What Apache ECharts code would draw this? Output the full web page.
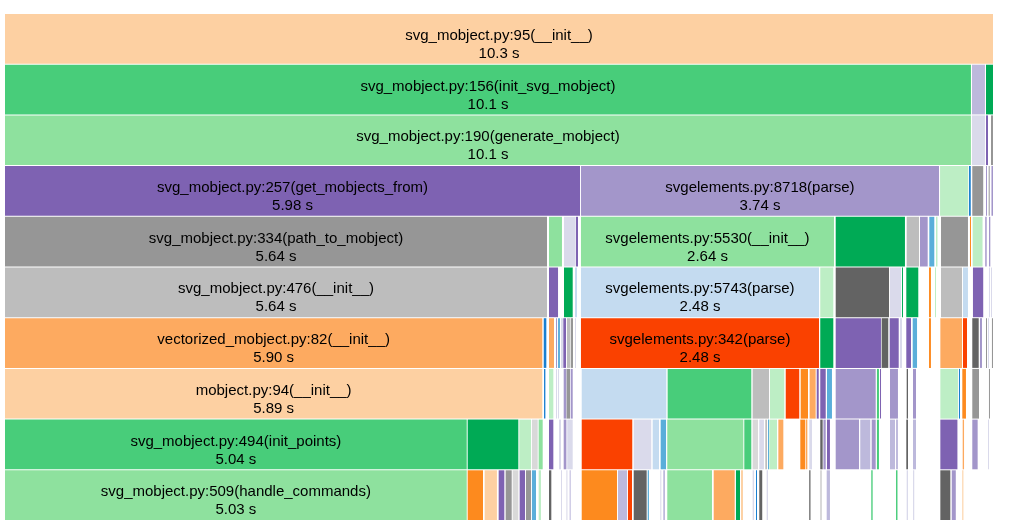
<!DOCTYPE html>
<html>
<head>
<meta charset="utf-8">
<script src="https://cdn.jsdelivr.net/npm/echarts@6/dist/echarts.min.js"></script>
<style>
html,body{margin:0;padding:0;background:#fff;}
#main{width:1009px;height:532px;}
</style>
</head>
<body>
<div id="main"></div>
<script>
// Flame graph frames per depth: [start (s), end (s), category, name, total time label]
const row0 = [[0, 10.301, 'PE', 'svg_mobject.py:95(__init__)', '10.3 s']];
const row1 = [[0, 10.071, 'G', 'svg_mobject.py:156(init_svg_mobject)', '10.1 s'], [10.082, 10.217, 'LP'], [10.228, 10.301, 'DG']];
const row2 = [[0, 10.071, 'LG', 'svg_mobject.py:190(generate_mobject)', '10.1 s'], [10.082, 10.217, 'LL'], [10.228, 10.249, 'P'], [10.280, 10.301, 'GR']];
const row3 = [[0, 5.995, 'P', 'svg_mobject.py:257(get_mobjects_from)', '5.98 s'], [6.005, 9.738, 'LV', 'svgelements.py:8718(parse)', '3.74 s'],
  [9.749, 10.043, 'PG'], [10.051, 10.069, 'DB'], [10.085, 10.199, 'GR'], [10.228, 10.238, 'LV'], [10.256, 10.266, 'GR'], [10.285, 10.301, 'LV']];
const row4 = [[0, 5.651, 'GR', 'svg_mobject.py:334(path_to_mobject)', '5.64 s'], [5.672, 5.807, 'LG'], [5.828, 5.950, 'LL'], [5.953, 5.974, 'P'],
  [6.005, 8.643, 'LG', 'svgelements.py:5530(__init__)', '2.64 s'], [8.661, 9.383, 'DG'], [9.401, 9.530, 'LGR'], [9.540, 9.620, 'LV'],
  [9.637, 9.689, 'B'], [9.707, 9.722, 'PG'], [9.759, 10.040, 'GR'], [10.061, 10.071, 'O'], [10.089, 10.192, 'PG'], [10.220, 10.235, 'LV'], [10.259, 10.273, 'LV']];
const row5 = [[0, 5.651, 'LGR', 'svg_mobject.py:476(__init__)', '5.64 s'], [5.672, 5.766, 'P'], [5.828, 5.919, 'DG'], [5.943, 5.964, 'LB'],
  [6.005, 8.487, 'LB', 'svgelements.py:5743(parse)', '2.48 s'], [8.500, 8.636, 'PG'], [8.661, 9.217, 'DGR'], [9.227, 9.342, 'LL'],
  [9.352, 9.362, 'DG'], [9.397, 9.522, 'DG'], [9.634, 9.654, 'O'], [9.696, 9.707, 'PG'], [9.759, 9.978, 'LGR'], [9.988, 10.040, 'LB'],
  [10.092, 10.199, 'P'], [10.259, 10.269, 'LL'], [10.280, 10.290, 'LL']];
const row6 = [[0, 5.602, 'LO', 'vectorized_mobject.py:82(__init__)', '5.90 s'], [5.617, 5.644, 'DB'], [5.672, 5.724, 'LO'], [5.745, 5.755, 'LV'],
  [5.766, 5.786, 'B'], [5.797, 5.817, 'LL'], [5.821, 5.849, 'P'], [5.859, 5.891, 'LGR'], [5.898, 5.922, 'GR'], [5.943, 5.953, 'LL'],
  [6.005, 8.487, 'R', 'svgelements.py:342(parse)', '2.48 s'], [8.500, 8.636, 'DG'], [8.661, 9.133, 'P'], [9.140, 9.209, 'DGR'],
  [9.224, 9.318, 'P'], [9.331, 9.352, 'LL'], [9.397, 9.446, 'P'], [9.464, 9.509, 'B'], [9.634, 9.654, 'O'], [9.752, 9.978, 'LO'],
  [9.988, 10.030, 'R'], [10.085, 10.152, 'DGR'], [10.165, 10.186, 'LV'], [10.228, 10.238, 'GR'], [10.249, 10.259, 'LL'], [10.290, 10.301, 'GR']];
const row7 = [[0, 5.602, 'PE', 'mobject.py:94(__init__)', '5.89 s'], [5.620, 5.634, 'DB'], [5.672, 5.717, 'PG'], [5.745, 5.755, 'LL'],
  [5.766, 5.776, 'LL'], [5.825, 5.853, 'LV'], [5.856, 5.891, 'GR'], [5.898, 5.919, 'LV'], [6.013, 6.895, 'LB'], [6.909, 7.781, 'G'],
  [7.795, 7.966, 'LGR'], [7.976, 8.125, 'PG'], [8.140, 8.281, 'R'], [8.296, 8.372, 'O'], [8.389, 8.452, 'LO'], [8.463, 8.484, 'P'],
  [8.500, 8.557, 'P'], [8.570, 8.622, 'B'], [8.661, 9.078, 'LV'], [9.091, 9.112, 'G'], [9.123, 9.133, 'P'], [9.227, 9.310, 'LV'],
  [9.401, 9.415, 'DGR'], [9.467, 9.498, 'LV'], [9.752, 9.936, 'PG'], [9.946, 9.957, 'DB'], [9.981, 10.019, 'O'], [10.085, 10.155, 'GR'], [10.259, 10.269, 'GR']];
const row8 = [[0, 4.814, 'G', 'svg_mobject.py:494(init_points)', '5.04 s'], [4.824, 5.352, 'DG'], [5.362, 5.484, 'PG'], [5.494, 5.554, 'VLG'],
  [5.564, 5.606, 'LG'], [5.672, 5.717, 'P'], [5.776, 5.797, 'LL'], [5.825, 5.853, 'LV'], [5.862, 5.919, 'LL'], [6.013, 6.540, 'R'],
  [6.555, 6.738, 'LL'], [6.753, 6.819, 'LB'], [6.836, 6.892, 'B'], [6.905, 7.698, 'LG'], [7.708, 7.781, 'G'], [7.795, 7.851, 'VLG'],
  [7.864, 7.913, 'LL'], [7.927, 7.945, 'LGR'], [7.955, 7.966, 'B'], [7.969, 8.049, 'PG'], [8.063, 8.115, 'LO'], [8.292, 8.344, 'O'],
  [8.354, 8.362, 'O'], [8.385, 8.414, 'LL'], [8.500, 8.525, 'DGR'], [8.533, 8.557, 'LV'], [8.570, 8.601, 'P'], [8.661, 8.904, 'LV'],
  [8.917, 9.022, 'LP'], [9.036, 9.078, 'LV'], [9.091, 9.112, 'G'], [9.227, 9.279, 'LP'], [9.290, 9.310, 'LP'], [9.397, 9.415, 'DGR'],
  [9.467, 9.498, 'LP'], [9.752, 9.930, 'P'], [9.985, 9.999, 'LO'], [10.085, 10.141, 'LV'], [10.249, 10.259, 'LL']];
const row9 = [[0, 4.814, 'LG', 'svg_mobject.py:509(handle_commands)', '5.03 s'], [4.824, 4.984, 'O'], [5.001, 5.129, 'PE'], [5.147, 5.206, 'P'],
  [5.220, 5.283, 'GR'], [5.293, 5.352, 'VLG'], [5.366, 5.422, 'P'], [5.432, 5.484, 'GR'], [5.494, 5.536, 'B'], [5.564, 5.588, 'PG'],
  [5.672, 5.696, 'DGR'], [5.797, 5.807, 'LL'], [5.853, 5.864, 'LL'], [5.887, 5.898, 'LP'], [6.013, 6.381, 'O'], [6.391, 6.485, 'LP'],
  [6.495, 6.537, 'R'], [6.555, 6.690, 'DGR'], [6.701, 6.714, 'B'], [6.832, 6.843, 'LL'], [6.863, 6.881, 'LP'], [6.905, 7.371, 'LG'],
  [7.389, 7.608, 'LO'], [7.621, 7.663, 'DG'], [7.674, 7.694, 'PE'], [7.795, 7.810, 'LL'], [7.830, 7.840, 'DB'], [7.864, 7.895, 'DGR'],
  [7.941, 7.955, 'LL'], [8.385, 8.398, 'DGR'], [8.497, 8.518, 'VLG'], [8.567, 8.601, 'LP'], [9.032, 9.046, 'G'], [9.290, 9.305, 'G'],
  [9.401, 9.415, 'LL'], [9.467, 9.480, 'LL'], [9.752, 9.856, 'DGR'], [9.871, 9.913, 'LV'], [9.981, 9.992, 'PE']];
const rows = [row0, row1, row2, row3, row4, row5, row6, row7, row8, row9];
const totalTime = 10.301;

const palette = {
  PE: '#fdd0a2', G: '#48cd7a', LG: '#8ee19e', PG: '#bdeec5', DG: '#00aa55',
  P: '#7e62b2', LV: '#a396ca', LP: '#bdb9dc', LL: '#dadaeb',
  GR: '#969696', LGR: '#bdbdbd', VLG: '#d9d9d9', DGR: '#636363',
  LB: '#c4dbf0', B: '#5aaeda', DB: '#1a7fd0',
  O: '#fd8a1e', LO: '#fdaa60', R: '#fa4100'
};

const frames = [];
rows.forEach((r, depth) => r.forEach(f => frames.push({depth, start: f[0], end: f[1], cat: f[2], name: f[3], time: f[4]})));

const chart = echarts.init(document.getElementById('main'), null, {renderer: 'canvas'});
chart.setOption({
  animation: false,
  grid: {left: 5, right: 16, top: 14, bottom: 11},
  xAxis: {type: 'value', min: 0, max: totalTime, show: false},
  yAxis: {type: 'value', min: 0, max: rows.length, inverse: true, show: false},
  series: [{
    type: 'custom',
    data: frames.map(f => [f.start, f.end, f.depth]),
    encode: {x: [0, 1], y: 2},
    renderItem: function (params, api) {
      const f = frames[params.dataIndex];
      const p0 = api.coord([f.start, f.depth]);
      const p1 = api.coord([f.end, f.depth + 1]);
      const w = Math.max(p1[0] - p0[0], 1);
      const h = p1[1] - p0[1] - 1;
      const children = [{
        type: 'rect',
        shape: {x: p0[0], y: p0[1], width: w, height: h},
        style: {fill: palette[f.cat]}
      }];
      if (f.name) {
        children.push({
          type: 'text',
          style: {
            x: p0[0] + w / 2, y: p0[1] + h / 2 + 6,
            text: f.name + '\n' + f.time,
            fill: '#000',
            font: '15px "Liberation Sans", Arial, sans-serif',
            lineHeight: 18,
            align: 'center', verticalAlign: 'middle'
          }
        });
      }
      return {type: 'group', children};
    }
  }]
});
</script>
</body>
</html>
